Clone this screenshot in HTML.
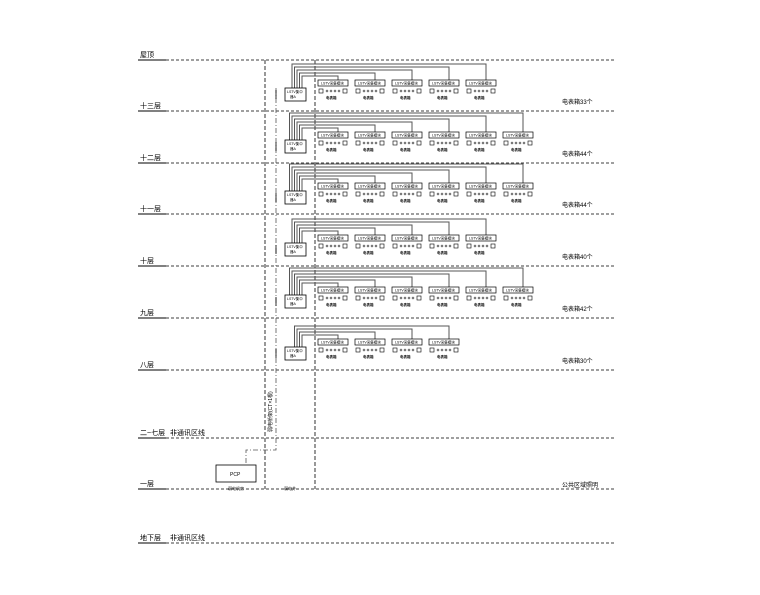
<!DOCTYPE html>
<html><head><meta charset="utf-8"><style>
html,body{margin:0;padding:0;background:#fff;}
svg{display:block;}
text{font-family:"Liberation Sans","Noto Sans CJK SC",sans-serif;fill:#000;}
</style></head><body>
<svg id="s" width="760" height="595" viewBox="0 0 760 595" xmlns="http://www.w3.org/2000/svg"></svg>
<script>
const s=document.getElementById('s');let h='';
const floors=[[60,'屋顶'],[111,'十三层'],[163,'十二层'],[214,'十一层'],[266,'十层'],[318,'九层'],[370,'八层'],[438,'二~七层'],[489,'一层'],[543,'地下层']];
floors.forEach(([y,t])=>{
 h+=`<line x1="138" y1="${y}" x2="166" y2="${y}" stroke="#000" stroke-width="1"/>`;
 h+=`<line x1="166" y1="${y}" x2="615" y2="${y}" stroke="#000" stroke-width="0.8" stroke-dasharray="3,2"/>`;
 h+=`<text x="140" y="${y-3}" font-size="7">${t}</text>`;
});
h+=`<text x="170" y="435" font-size="7">非通讯区线</text><text x="170" y="540" font-size="7">非通讯区线</text>`;
// verticals
[265,315].forEach(x=>h+=`<line x1="${x}" y1="60" x2="${x}" y2="489" stroke="#000" stroke-width="0.8" stroke-dasharray="4,2"/>`);
h+=`<polyline points="276,88 276,450 246,450 246,465" fill="none" stroke="#555" stroke-width="0.8" stroke-dasharray="5,2,1,2"/>`;
h+=`<text transform="translate(272,432) rotate(-90)" font-size="5">弱电桥架(CT×1根)</text>`;
h+=`<rect x="216" y="465" width="40" height="17" fill="#fff" stroke="#000" stroke-width="0.8"/><text x="230" y="476" font-size="5">PCP</text>`;
h+=`<text x="228" y="490" font-size="4">弱电机房</text><text x="284" y="490" font-size="4">弱电井</text><text x="562" y="487" font-size="6">公共区域照明</text>`;
const blocks=[[111,5,'33'],[163,6,'44'],[214,6,'44'],[266,5,'40'],[318,6,'42'],[370,4,'30']];
blocks.forEach(([L,n,c])=>{
 const by=L-23;
 for(let i=0;i<n;i++){
  const mx=318+37*i, lx=mx+20, ly=by-12-3*i, sx=302-2.5*i;
  h+=`<polyline points="${sx},${by} ${sx},${ly} ${lx},${ly} ${lx},${by-8}" fill="none" stroke="#555" stroke-width="1"/>`;
 }
 h+=`<rect x="285" y="${by}" width="21" height="13" fill="#fff" stroke="#000" stroke-width="0.8"/>`;
 h+=`<text x="287" y="${by+5}" font-size="3.5">LSTV集中</text><text x="290" y="${by+10}" font-size="3.5">器A</text>`;
 h+=`<line x1="276" y1="${by+2}" x2="276" y2="${by+11}" stroke="#000" stroke-width="0.8"/>`;
 for(let i=0;i<n;i++){
  const mx=318+37*i;
  h+=`<rect x="${mx}" y="${by-8}" width="30" height="6" fill="#fff" stroke="#000" stroke-width="0.7"/>`;
  h+=`<text x="${mx+3}" y="${by-3.5}" font-size="3.5">LSTV采集模块</text>`;
  h+=`<rect x="${mx+1}" y="${by+1}" width="4" height="4" fill="#fff" stroke="#000" stroke-width="0.6"/>`;
  h+=`<rect x="${mx+25}" y="${by+1}" width="4" height="4" fill="#fff" stroke="#000" stroke-width="0.6"/>`;
  for(let k=0;k<4;k++)h+=`<circle cx="${mx+9+k*4}" cy="${by+3}" r="1" fill="none" stroke="#000" stroke-width="0.5"/>`;
  h+=`<text x="${mx+8}" y="${by+11}" font-size="3.5" font-weight="bold">电表箱</text>`;
 }
 h+=`<text x="562" y="${L-7}" font-size="6">电表箱${c}个</text>`;
});
s.innerHTML=h;
</script>
</body></html>
